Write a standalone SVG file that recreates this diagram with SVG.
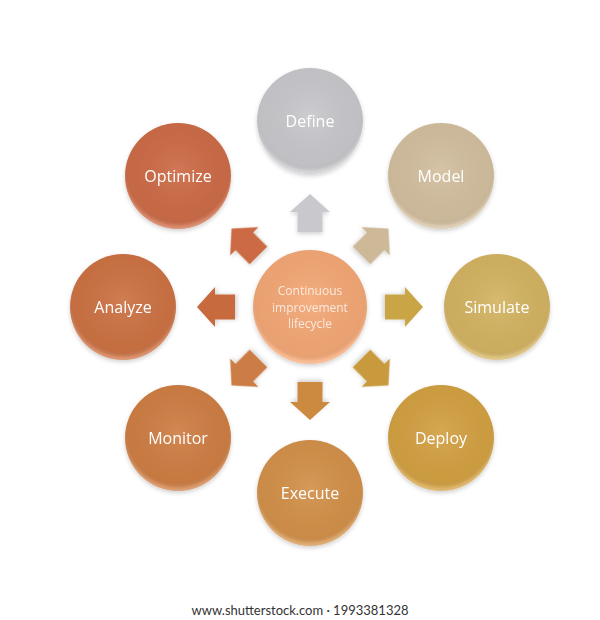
<svg xmlns="http://www.w3.org/2000/svg" xmlns:xlink="http://www.w3.org/1999/xlink" width="600" height="620" viewBox="0 0 600 620">
<defs>
<radialGradient id="shade" cx="50%" cy="45%" r="55%">
<stop offset="0" stop-color="#fff" stop-opacity="0.08"/>
<stop offset="0.85" stop-color="#000" stop-opacity="0.04"/>
<stop offset="0.95" stop-color="#fff" stop-opacity="0.18"/>
<stop offset="1" stop-color="#fff" stop-opacity="0.3"/>
</radialGradient>
<filter id="sh" x="-20%" y="-20%" width="140%" height="140%">
<feDropShadow dx="0" dy="2" stdDeviation="2" flood-color="#000" flood-opacity="0.18"/>
</filter>
<path id="arr" d="M0,-19 L20,-1 L12.5,-1 L12.5,19 L-12.5,19 L-12.5,-1 L-20,-1 Z"/>
</defs>
<style>
.lbl{font-family:"Open Sans","Liberation Sans",sans-serif;font-size:16px;fill:#fff;text-anchor:middle;dominant-baseline:central}
.ctr{font-family:"Open Sans","Liberation Sans",sans-serif;font-size:12px;fill:#fff;fill-opacity:0.75;text-anchor:middle;dominant-baseline:central}
.ov{fill:url(#shade)}
.arrow{filter:url(#sh)}
</style>
<rect width="600" height="620" fill="#fff"/>
<g id="connectors">
<use xlink:href="#arr" class="arrow" fill="#c9c9cd" transform="translate(310,213)"/>
<use xlink:href="#arr" class="arrow" fill="#cdb898" transform="translate(375,242) rotate(45)"/>
<use xlink:href="#arr" class="arrow" fill="#c9a545" transform="translate(404,307) rotate(90)"/>
<use xlink:href="#arr" class="arrow" fill="#c99a3e" transform="translate(375,372) rotate(135)"/>
<use xlink:href="#arr" class="arrow" fill="#cc8a40" transform="translate(310,401) rotate(180)"/>
<use xlink:href="#arr" class="arrow" fill="#cc7b45" transform="translate(245,372) rotate(225)"/>
<use xlink:href="#arr" class="arrow" fill="#c76a3e" transform="translate(216,307) rotate(270)"/>
<use xlink:href="#arr" class="arrow" fill="#cc6a45" transform="translate(245,242) rotate(315)"/>
</g>
<g id="center" filter="url(#sh)">
<circle cx="310" cy="307" r="57" fill="#f4a876"/>
<circle cx="310" cy="307" r="57" class="ov"/>
<text class="ctr" x="310" y="290.5">Continuous</text>
<text class="ctr" x="310" y="307">improvement</text>
<text class="ctr" x="310" y="323.5">lifecycle</text>
</g>
<g id="define" filter="url(#sh)">
<circle cx="310" cy="121" r="53" fill="#c8c8cc"/>
<circle cx="310" cy="121" r="53" class="ov"/>
<text class="lbl" x="310" y="121">Define</text>
</g>
<g id="model" filter="url(#sh)">
<circle cx="441" cy="176" r="53" fill="#d3bf9f"/>
<circle cx="441" cy="176" r="53" class="ov"/>
<text class="lbl" x="441" y="176">Model</text>
</g>
<g id="simulate" filter="url(#sh)">
<circle cx="497" cy="307" r="53" fill="#d4b463"/>
<circle cx="497" cy="307" r="53" class="ov"/>
<text class="lbl" x="497" y="307">Simulate</text>
</g>
<g id="deploy" filter="url(#sh)">
<circle cx="441" cy="438" r="53" fill="#d3a143"/>
<circle cx="441" cy="438" r="53" class="ov"/>
<text class="lbl" x="441" y="438">Deploy</text>
</g>
<g id="execute" filter="url(#sh)">
<circle cx="310" cy="493" r="53" fill="#d3914a"/>
<circle cx="310" cy="493" r="53" class="ov"/>
<text class="lbl" x="310" y="493">Execute</text>
</g>
<g id="monitor" filter="url(#sh)">
<circle cx="178" cy="438" r="53" fill="#cf7e44"/>
<circle cx="178" cy="438" r="53" class="ov"/>
<text class="lbl" x="178" y="438">Monitor</text>
</g>
<g id="analyze" filter="url(#sh)">
<circle cx="123" cy="307" r="53" fill="#cd7244"/>
<circle cx="123" cy="307" r="53" class="ov"/>
<text class="lbl" x="123" y="307">Analyze</text>
</g>
<g id="optimize" filter="url(#sh)">
<circle cx="178" cy="176" r="53" fill="#cd6b47"/>
<circle cx="178" cy="176" r="53" class="ov"/>
<text class="lbl" x="178" y="176">Optimize</text>
</g>
<text x="300" y="610" font-family="Lato,'Liberation Sans',sans-serif" font-size="13" fill="#333" text-anchor="middle" dominant-baseline="central">www.shutterstock.com · 1993381328</text>
</svg>
